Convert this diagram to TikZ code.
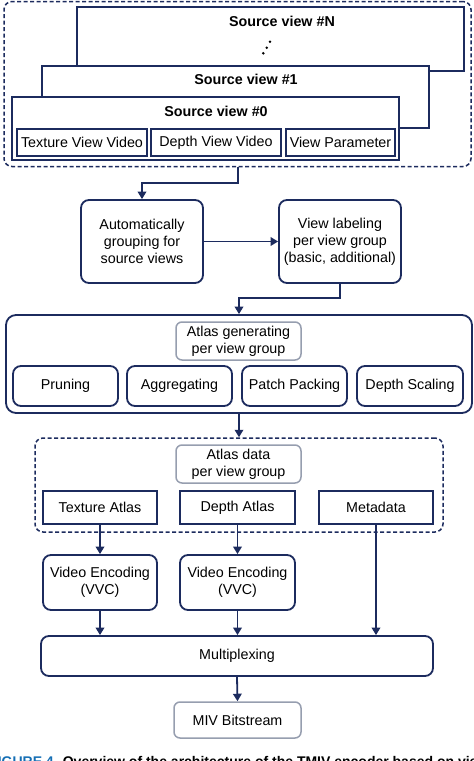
\documentclass[tikz,border=0pt]{standalone}
\usepackage{fontspec}
\setmainfont{Liberation Sans}
\usetikzlibrary{arrows.meta,calc}
\definecolor{navy}{RGB}{28,43,94}
\definecolor{lblgray}{RGB}{150,158,175}
\definecolor{capblue}{RGB}{20,110,180}
\begin{document}
\begin{tikzpicture}[x=1pt,y=-1pt,
  every node/.style={font=\fontsize{14.3}{17}\selectfont, text=black, inner sep=0pt, align=center},
  box/.style={draw=navy, line width=1.8pt, fill=white},
  rbox/.style={box, rounded corners=8pt},
  lbl/.style={draw=lblgray, line width=1.5pt, fill=white, rounded corners=6pt},
  dbox/.style={draw=navy, line width=1.5pt, dash pattern=on 4pt off 2.5pt, rounded corners=8pt},
  arr/.style={draw=navy, line width=1.8pt, -{Triangle[length=7.5pt,width=8.5pt]}},
  hdr/.style={font=\fontsize{14.3}{17}\selectfont\bfseries}
]
\useasboundingbox (0,0) rectangle (474,761);

% source views
\node[dbox, minimum width=467pt, minimum height=165pt] (src) at (237.5,84) {};
\node[box, minimum width=387pt, minimum height=64pt] (svN) at (270.5,39) {};
\node[hdr] (svNt) at (282,21) {Source view \#N};
\fill (263.3,53.3) circle (1.4) (266.7,47.7) circle (1.4) (270,41.7) circle (1.4);
\node[box, minimum width=387pt, minimum height=62pt] (sv1) at (235.5,97) {};
\node[hdr] (sv1t) at (246,79) {Source view \#1};
\node[box, minimum width=387pt, minimum height=63pt] (sv0) at (205.5,128.5) {};
\node[hdr] (sv0t) at (216,111) {Source view \#0};
\node[box, minimum width=130pt, minimum height=27pt] (tvv) at (82,142.5) {Texture View Video};
\node[box, minimum width=130pt, minimum height=27pt] (dvv) at (216,142.5) {Depth View Video};
\node[box, minimum width=109pt, minimum height=27pt] (vp) at (340.5,142.5) {View Parameter};

% grouping / labeling
\node[rbox, minimum width=122pt, minimum height=83pt] (auto) at (142,241.5) {Automatically\\grouping for\\source views};
\node[rbox, minimum width=122pt, minimum height=83pt] (vl) at (340,241.5) {View labeling\\per view group\\(basic, additional)};

% atlas generating
\node[rbox, rounded corners=10pt, minimum width=466pt, minimum height=98pt] (big) at (239,364) {};
\node[lbl, minimum width=125pt, minimum height=38pt] (agen) at (238.5,341) {Atlas generating\\per view group};
\node[rbox, minimum width=105pt, minimum height=40pt] (prun) at (65.5,386) {Pruning};
\node[rbox, minimum width=105pt, minimum height=40pt] (aggr) at (179.5,386) {Aggregating};
\node[rbox, minimum width=105pt, minimum height=40pt] (pack) at (294.5,386) {Patch Packing};
\node[rbox, minimum width=106pt, minimum height=40pt] (dsc) at (410,386) {Depth Scaling};

% atlas data
\node[dbox, minimum width=408pt, minimum height=94pt] (adash) at (239,485) {};
\node[lbl, minimum width=125pt, minimum height=38pt] (adata) at (238.5,464) {Atlas data\\per view group};
\node[box, minimum width=114pt, minimum height=33pt] (ta) at (100,507.5) {Texture Atlas};
\node[box, minimum width=115pt, minimum height=33pt] (da) at (237.5,507.5) {Depth Atlas};
\node[box, minimum width=114pt, minimum height=33pt] (md) at (376,507.5) {Metadata};

% encoding
\node[rbox, minimum width=114pt, minimum height=55pt] (ve1) at (100,582.5) {Video Encoding\\(VVC)};
\node[rbox, minimum width=115pt, minimum height=55pt] (ve2) at (237.5,582.5) {Video Encoding\\(VVC)};
\node[rbox, minimum width=392pt, minimum height=40pt] (mux) at (237,656) {Multiplexing};
\node[lbl, minimum width=127pt, minimum height=36pt] (miv) at (237.5,720) {MIV Bitstream};

% connectors
\coordinate (srcout) at (238,167);
\draw[arr] (srcout) -- (238,183) -| (auto.north);
\draw[arr] (auto.east) -- (vl.west);
\draw[arr] (vl.south) -- ++(0,14) -| (big.north);
\draw[arr] (big.south) -- (adash.north);
\draw[arr] (ta.south) -- (ve1.north);
\draw[arr] (da.south) -- (ve2.north);
\draw[arr] (md.south) -- (md.south |- mux.north);
\draw[arr] (ve1.south) -- (ve1.south |- mux.north);
\draw[arr] (ve2.south) -- (ve2.south |- mux.north);
\draw[arr] (mux.south) -- (miv.north);

% cut caption
\begin{scope}
\clip (0,0) rectangle (474,761);
\node[anchor=base west, font=\fontsize{14}{17}\selectfont\bfseries] (cap) at (-11,766)
  {\textcolor{capblue}{FIGURE 4.} Overview of the architecture of the TMIV encoder based on view};
\end{scope}
\end{tikzpicture}
\end{document}
